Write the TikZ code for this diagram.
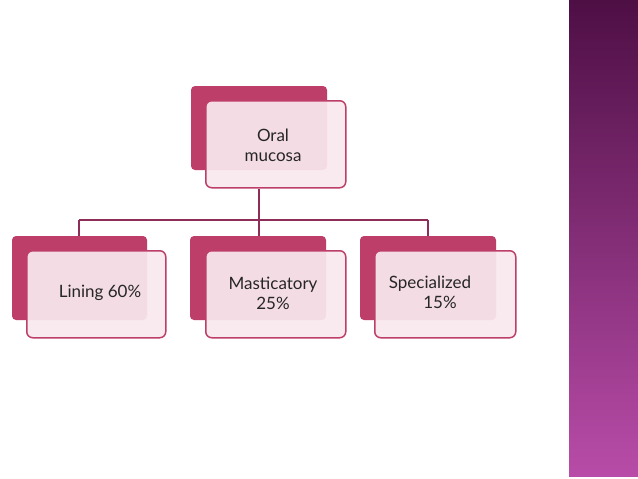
\documentclass[tikz,border=0pt]{standalone}
\usepackage{fontspec}
\setmainfont{Lato}
\tikzset{x=1pt,y=-1pt}
\definecolor{bk}{HTML}{BD3E69}
\definecolor{fr}{HTML}{F9E9EF}
\definecolor{ln}{HTML}{8E2E58}
\definecolor{stT}{HTML}{4E0F45}
\definecolor{stB}{HTML}{B84CA8}
\tikzset{
  backbox/.style={fill=bk,rounded corners=4pt},
  frontbox/.style={fill=fr,fill opacity=0.93,draw=bk,line width=1.5pt,rounded corners=6pt},
  lbl/.style={font=\fontsize{17}{20}\selectfont,text=black!85,align=center},
  conn/.style={draw=ln,line width=2pt}
}
\begin{document}
\begin{tikzpicture}
\useasboundingbox (0,0) rectangle (638,479);
\fill[white] (0,0) rectangle (638,479);
\shade[top color=stT,bottom color=stB] (569,0) rectangle (638,476);
% connectors
\coordinate (h1) at (79,220);
\coordinate (h2) at (259,220);
\coordinate (h3) at (428,220);
% top
\fill[backbox] (191,86) rectangle (327,170);
\node[frontbox,minimum width=140pt,minimum height=87pt,anchor=north west] (top) at (205,100) {};
\node[lbl] (toplbl) at (273,145) {Oral\\mucosa};
% children
\fill[backbox] (12,236) rectangle (147,320);
\node[frontbox,minimum width=139pt,minimum height=87pt,anchor=north west] (c1) at (26,250) {};
\node[lbl] (c1l) at (100,293) {Lining 60\%};
\fill[backbox] (190,236) rectangle (326,320);
\node[frontbox,minimum width=140pt,minimum height=87pt,anchor=north west] (c2) at (205,250) {};
\node[lbl] (c2l) at (273,293) {Masticatory\\25\%};
\fill[backbox] (360,236) rectangle (496,320);
\node[frontbox,minimum width=141pt,minimum height=87pt,anchor=north west] (c3) at (374,250) {};
\node[lbl] (c3l) at (430,292) {Specialized\\\hspace*{20pt}15\%};
\draw[conn] (top.south -| h2) -- (h2);
\draw[conn] (h1) -- (h3);
\draw[conn] (h1) -- (h1 |- 0,236);
\draw[conn] (h2) -- (h2 |- 0,236);
\draw[conn] (h3) -- (h3 |- 0,236);
\end{tikzpicture}
\end{document}
